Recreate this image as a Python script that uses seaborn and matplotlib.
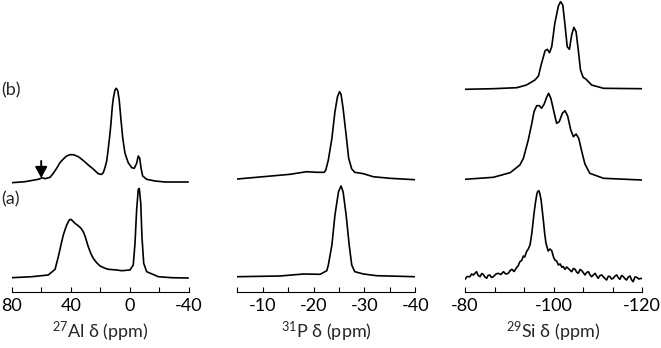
import numpy as np
import pandas as pd
import matplotlib
matplotlib.use("Agg")
import matplotlib.pyplot as plt
import seaborn as sns

# ---------------- data (ppm, intensity relative to own baseline) ----------------
al_b_ppm = [80, 71.0, 62.0, 60.8, 59.3, 57.4, 54.0, 51.8, 49.5, 47.3, 45.0, 42.7, 40.5, 38.2,
            34.8, 32.5, 30.3, 28.1, 25.8, 23.5, 21.7, 20.1, 19.0, 17.9, 16.7, 15.6, 14.9, 13.4,
            12.7, 11.8, 11.1, 10.0, 9.1, 8.1, 7.1, 5.9, 4.7, 3.2, 1.0, -1.4, -3.1, -4.7, -5.8,
            -6.8, -7.7, -8.8, -11.5, -17.2, -23.9, -33.0, -39.7]
al_b_int = [-0.7, 0.3, 2.7, 3.3, 4.3, 3.3, 4.7, 8.7, 13.7, 19.3, 23, 26, 27.3, 27.3,
            25.3, 22.7, 20, 17, 14.3, 11.3, 8.7, 7.7, 7.7, 9.3, 14.7, 21, 28.7, 48,
            58.7, 75.3, 83.7, 92, 93.7, 91.3, 82, 62, 43.7, 28.7, 19.3, 14.3, 13.7, 18.7, 26,
            23.7, 13.7, 6, 2.7, 1, 0, 0, 0]

al_a_ppm = [80, 66.4, 55.2, 50.6, 48.4, 46.1, 45.0, 43.9, 42.7, 41.6, 40.9, 40.0, 39.3, 37.1,
            35.3, 33.7, 32.5, 31.5, 30.3, 28.1, 26.2, 24.7, 22.4, 20.1, 16.7, 14.5, 8.8, 5.4,
            -0.2, -2.4, -3.6, -4.7, -5.8, -6.5, -7.5, -8.3, -9.5, -11.5, -19.4, -28.5, -39.7]
al_a_int = [-0.2, 0.8, 2.5, 8.2, 20.8, 35.8, 42.5, 47.5, 52.5, 55.8, 57.5, 58.2, 57.5, 54.2,
            52.2, 50.2, 48.2, 45.8, 41.5, 30.8, 23.5, 19.2, 14.8, 11.5, 9.2, 8.2, 7.5, 6.8,
            7.5, 12.5, 34.2, 67.5, 88, 89, 74.2, 40.8, 14.2, 5.8, 0.8, -0.2, -0.5]

p_b_ppm = [-5.0, -10.1, -15.4, -18.6, -20.6, -22.1, -22.4, -22.9, -23.6, -24.2, -24.7, -25.1,
           -25.4, -25.8, -26.4, -26.9, -27.5, -28.1, -29.8, -31.7, -35.0, -39.9]
p_b_int = [0, 2.3, 4.7, 7.3, 6.7, 6.7, 9, 19, 40.7, 67.3, 82.3, 87.3,
           84.7, 70.7, 44, 20.7, 10, 6.7, 5.3, 2.3, 0.7, -0.7]

p_a_ppm = [-5.0, -13.4, -18.0, -21.3, -22.6, -22.9, -23.6, -24.2, -24.9, -25.4, -25.8, -26.4,
           -27.0, -27.5, -28.1, -29.8, -32.4, -39.9]
p_a_int = [0, 0.7, 2.7, 2.4, 6, 11.7, 31.7, 61.7, 85, 90.7, 85, 61.7,
           31.7, 11.7, 5, 2.7, 1, 0]

si_top_ppm = [-80, -86.4, -91.7, -93.9, -95.8, -96.6, -97.3, -98.1, -98.6, -99.1, -99.6, -100.3,
              -101.1, -101.6, -102.1, -102.6, -103.1, -103.6, -104.1, -104.6, -105.1, -105.6,
              -106.1, -106.7, -107.3, -107.9, -108.6, -111.3, -119.9]
si_top_int = [-0.3, 0.3, 1.3, 4, 9, 13, 25.7, 38.3, 39.7, 36.3, 42.3, 65.7,
              83, 87.3, 84, 64, 42.3, 39.7, 54, 61.7, 57.3, 39,
              19, 11.7, 10, 7.3, 4, 0.7, 0.3]

si_mid_ppm = [-80, -86.4, -90.2, -92.4, -93.2, -94.3, -95.1, -95.6, -96.2, -96.8, -97.3, -97.9,
              -98.5, -98.9, -99.4, -100.0, -100.7, -101.3, -102.0, -102.6, -103.2, -103.9,
              -104.5, -105.1, -105.7, -106.4, -107.1, -108.2, -111.3, -119.9]
si_mid_int = [0.2, 2.2, 6.8, 14.5, 21.2, 39.5, 56.2, 67.8, 73.8, 73.8, 71.2, 75.5,
              82.8, 86.2, 81.2, 69.5, 56.2, 57.8, 66.2, 68.8, 63.5, 49.5,
              42.8, 45.5, 41.2, 27.8, 15.5, 6.2, 1.2, -0.5]

si_a_ppm = [-80.0, -80.5, -81.1, -81.5, -81.9, -82.3, -82.6, -83.0, -83.4, -83.8, -84.1, -84.5,
            -84.9, -85.2, -85.6, -86.0, -86.4, -87.0, -87.5, -88.1, -88.7, -89.2, -89.8, -90.2,
            -90.6, -91.1, -91.7, -92.0, -92.4, -92.8, -93.2, -93.5, -93.9, -94.3, -94.7, -95.1,
            -95.6, -95.9, -96.2, -96.4, -96.7, -96.9, -97.2, -97.4, -97.7, -98.0, -98.3, -98.8,
            -99.2, -99.6, -100.0, -100.3, -100.7, -101.1, -101.5, -101.9, -102.2, -102.6,
            -103.0, -103.3, -103.7, -104.1, -104.5, -104.9, -105.2, -105.6, -106.0, -106.4,
            -106.8, -107.1, -107.5, -107.9, -108.2, -108.6, -109.0, -109.4, -109.8, -110.1,
            -110.5, -110.9, -111.4, -112.0, -112.4, -112.8, -113.1, -113.5, -113.9, -114.3,
            -114.6, -115.0, -115.4, -115.8, -116.1, -116.5, -116.9, -117.3, -117.6, -118.0,
            -118.4, -118.8, -119.3, -119.9]
si_a_int = [-1.3, 1.5, 1.3, 4, 3, 5, 6.3, 2.5, 1.3, 4.5, 3.7, 1,
            -0.3, 2.5, 3, 0.5, 1.3, 4, 4.7, 3.5, 6.3, 4, 4.7, 7.5,
            8.7, 6.5, 10.7, 12, 16.3, 17.5, 22, 21, 26.3, 29, 33, 44.7,
            64.7, 74.7, 83, 86.3, 87.3, 84.7, 78, 69.7, 58, 44.7, 34.7, 27,
            29, 27.3, 21, 18, 17, 13, 14, 10.7, 11.5, 8.7,
            11, 9.7, 8, 6.3, 9.5, 8.7, 6, 4.7, 8.5, 7.3,
            5, 3, 5.5, 6.3, 3.5, 1.3, 3, 4.7, 1.5, -0.3,
            2.5, 3, 0.5, -2, 1.8, 1.3, -1, -0.3, 2, 3,
            0.5, -1.3, 2.5, 1.3, -0.5, -2, 1, 2, -1.5, -3.7,
            1, 0.7, -1, -0.3]

al_ticks = [80, 40, 0, -40]
p_ticks = [-10, -20, -30, -40]
si_ticks = [-80, -100, -120]
xlabels = ["$^{27}$Al δ (ppm)", "$^{31}$P δ (ppm)", "$^{29}$Si δ (ppm)"]
trace_labels = ["(b)", "(a)"]

# ---------------- figure ----------------
sns.set_style("white")
plt.rcParams["font.family"] = ["Lato", "DejaVu Sans"]
plt.rcParams["mathtext.fontset"] = "custom"
plt.rcParams["mathtext.rm"] = "Lato"
plt.rcParams["mathtext.it"] = "Lato:italic"

W, H = 661, 348
fig = plt.figure(figsize=(W / 100, H / 100), dpi=100)

axis_y = 292
bottom = (H - axis_y) / H
height = axis_y / H
panels = [
    dict(left=11.7, right=188.7, xlim=(80, -40), ticks=al_ticks, minor=[60, 20, -20],
         traces=[(al_b_ppm, al_b_int, 110), (al_a_ppm, al_a_int, 14.5)]),
    dict(left=237.3, right=415.3, xlim=(-5, -40), ticks=p_ticks, minor=[-5, -15, -25, -35],
         traces=[(p_b_ppm, p_b_int, 113), (p_a_ppm, p_a_int, 15.3)]),
    dict(left=465, right=642, xlim=(-80, -120), ticks=si_ticks,
         minor=list(np.linspace(-80, -120, 7)),
         traces=[(si_top_ppm, si_top_int, 203), (si_mid_ppm, si_mid_int, 112.5),
                 (si_a_ppm, si_a_int, 14)]),
]

FS = 13
axes = []
for i, p in enumerate(panels):
    ax = fig.add_axes([p["left"] / W, bottom, (p["right"] - p["left"]) / W, height])
    for xs, ys, off in p["traces"]:
        df = pd.DataFrame({"ppm": xs, "I": np.array(ys) + off})
        sns.lineplot(data=df, x="ppm", y="I", ax=ax, color="black", linewidth=1.2,
                     estimator=None, sort=False)
    ax.set_xlim(*p["xlim"])
    ax.set_ylim(0, axis_y)
    ax.set_xticks(p["ticks"])
    ax.set_xticks(p["minor"], minor=True)
    ax.set_xticklabels([str(t) for t in p["ticks"]], fontsize=FS)
    ax.tick_params(axis="x", which="both", direction="in", length=3.5, width=0.8,
                   pad=4.5, bottom=True, colors="black")
    ax.tick_params(axis="x", which="minor", labelbottom=False)
    ax.set_yticks([])
    ax.set_ylabel("")
    ax.set_xlabel(xlabels[i], fontsize=FS, labelpad=4)
    for s in ["top", "left", "right"]:
        ax.spines[s].set_visible(False)
    ax.spines["bottom"].set_color("black")
    ax.spines["bottom"].set_linewidth(0.8)
    ax.patch.set_alpha(0)
    axes.append(ax)

# arrow in Al (b)
axes[0].annotate("", xy=(60, 114), xytext=(60, 131),
                 arrowprops=dict(arrowstyle="-|>,head_length=0.55,head_width=0.3",
                                 mutation_scale=12, color="black", lw=1.4,
                                 shrinkA=0, shrinkB=0))

fig.text(1 / W, 1 - 90 / H, trace_labels[0], fontsize=FS, va="center", ha="left")
fig.text(1 / W, 1 - 199 / H, trace_labels[1], fontsize=FS, va="center", ha="left")

fig.savefig("out.png", dpi=100)
